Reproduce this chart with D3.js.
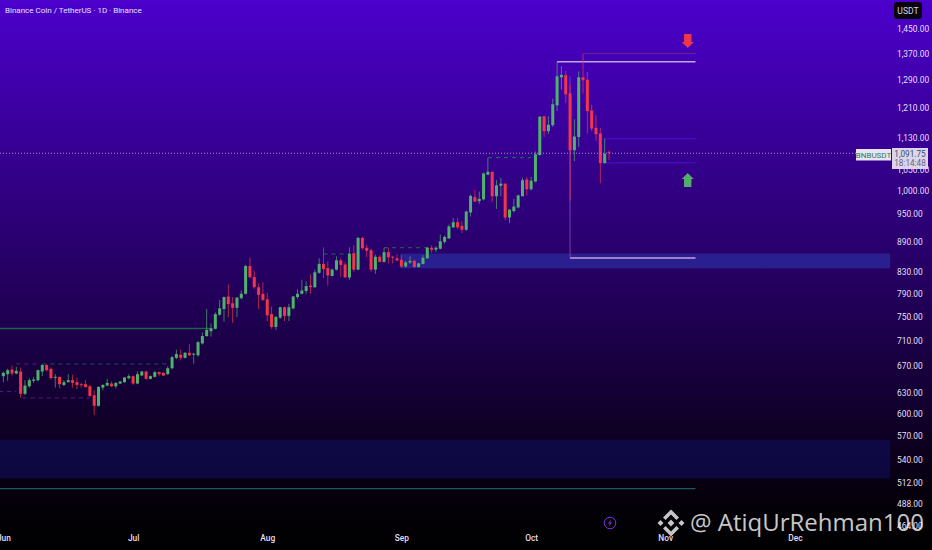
<!DOCTYPE html>
<html>
<head>
<meta charset="utf-8">
<script src="https://cdn.jsdelivr.net/npm/d3@7/dist/d3.min.js"></script>
<style>
  html, body { margin: 0; padding: 0; background: #000; }
  svg { display: block; font-family: Roboto, sans-serif; }
</style>
</head>
<body>
<svg id="chart" width="932" height="550"></svg>
<script>
// daily candles, first one is 1 Jun
var firstDay = Date.UTC(2025, 5, 1);
var opens = [654,657,664,658,661,628,639,647,648,661,671,665,652,653,641,645,648,645,642,642,639,626,611,637,640,643,639,643,645,651,
  654,643,655,661,650,653,660,659,657,666,682,687,682,690,687.5,686,705,717,725,729,753,763,785,773,765,782,790,842,821,802,
  790,780,754,732,748,766,751,764,784,790,795,805,802,829,846,838,823,835,853,845,820,867,835,898,878,873,835,860,850,869,
  860,857,854,841,849,852,840,846,857,878,874,876,890,897,920,931,923,915,952,986,977,981,1038,1045,988,1012,1017,941,955,963,
  988,1027,1004,1022,1086,1187,1147,1163,1217,1298,1304,1251,1098,1132,1298,1291,1203,1156,1141,1066,1094];
var highs = [661,665,670,668,667,648,651,653,664,672,672,667,657,653,648,657,656,652,644,648,641,633,639,642,650,646,645,647,652.5,657,
  655,661,662,662,655,662,661,660,669,685,695,695,691,704,690,709,723,763,738,757,779,785,807,784,784,796,844,858,833,809,
  811,792,767,751,767,767,772,786,798,816,813,826,835,857,879,851,837,861,857,850,879,883,900,900,884,876,864,863,878,878,
  862,865,864,852,861,854,848,863,880,883,881,905,903,926,940,940,933,956,992,1003,999,1043,1079,1046,1025,1031,1018,959,982,992,
  1031,1032,1033,1095,1187,1188,1187,1236,1345,1332,1317,1275,1179,1316,1370,1314,1219,1190,1156,1128,1097];
var lows = [645,647,655,657,622,626,637,644,646,654,661,649,637,636,639,645,637,635,637,637,624,598,610,633,639,638,636,642,644,649,
  641,642,654,649,649,652,654,654,656,664,680,678,681,685,673,684,703,716,716,728,751,741,749,739,749,780,789,819,799,763,
  777,742,729,727,746,742,742,762,781,789,790,790,800,827,819,805,822,833,821,819,816,831,834,874,859,831,827,849,849,847,
  847,851,838,839,846,839,839,845,856,868,869,875,886,896,919,917,908,913,943,976,971,979,1037,975,960,988,935,929,952,961,
  988,990,1001,1020,1085,1132,1140,1158,1201,1262,1224,978,1071,1106,1250,1141,1147,1122,1018,1065,1073];
var closes = [659,663,658,662,628,640,648,649,663,671,663,651,653,642,645,648,644,641,641,638,625,611,638,641,644,639,644,646,652,654,
  643,657,661,650,654,660,657,655,666,683,688,682,690,686,688.5,707,717,727,730,754,764,784,771.5,765,783,790,842,820.5,802,788,
  779,752,732,749,766,751,766,785,790,796,804,802,830,846,836,824,835,853,844,820.5,866,835,898,877,872,835,860,850,869,859,
  858,853,841,849,852,840,847,858,878,874,878,891,900,922,931,920,915,954,989,976,982,1041,1045,988,1013,1017,941,958,965,990,
  1025,1004,1024,1088,1186,1147,1164,1220,1301,1305,1248,1098,1133,1298,1289,1201,1154,1139,1066,1089,1091.75];

var priceTicks = [1450,1370,1290,1210,1130,1050,1000,950,890,830,790,750,710,670,630,600,570,540,512,488,464];
var monthTicks = [Date.UTC(2025,5,1), Date.UTC(2025,6,1), Date.UTC(2025,7,1), Date.UTC(2025,8,1), Date.UTC(2025,9,1), Date.UTC(2025,10,1), Date.UTC(2025,11,1)];
var lastPrice = 1091.75;

// drawn levels: [from day, to day, price]
var solidLevels = [
  [128, 160, 1345, '#b9abdc', 1.6],
  [134, 160, 1370.7, '#6e2484', 1],
  [139, 160, 1127.6, '#4a0fd8', 1],
  [139, 160, 1066.6, '#4a0fd8', 1],
  [131, 160, 857.6, '#c7a0dc', 1.4],
  [-1, 160, 505.2, '#1f6f72', 1],
  [-1, 47.7, 729.5, '#1f5f50', 1.5]
];
var dashedLevels = [
  [3, 8, 672.6, '#5a1c80'],
  [9, 38.5, 672.6, '#185850'],
  [4.5, 20, 622.2, '#5a1c80'],
  [-1, 3, 631.3, '#5a1c80'],
  [74, 80, 865.4, '#1d6a55'],
  [88, 98, 878, '#1d6a55'],
  [112, 122, 1079.5, '#1d7a55']
];
// zones: [from day, to day, top price, bottom price]
var zones = [
  [91.8, 205, 866.4, 837.5, '#2c2a9e', 0.75],
  [-1, 205, 565.3, 517.3, '#14127a', 0.42]
];

var width = 932, height = 550, axisX = 891;
var green = '#4fb26c', red = '#f23548';

var svg = d3.select('#chart');

var gradient = svg.append('defs').append('linearGradient')
  .attr('id', 'bg').attr('x1', 0).attr('y1', 0).attr('x2', 0).attr('y2', 1);
gradient.append('stop').attr('offset', '0%').attr('stop-color', '#4c00cc');
gradient.append('stop').attr('offset', '92%').attr('stop-color', '#040008');
gradient.append('stop').attr('offset', '100%').attr('stop-color', '#000000');

svg.append('rect').attr('width', width).attr('height', height).attr('fill', 'url(#bg)');

var dayMs = 86400000;
function dayToDate(i) { return new Date(firstDay + i * dayMs); }

var x = d3.scaleUtc()
  .domain([new Date(monthTicks[0]), new Date(monthTicks[6])])
  .range([3.36, 795.02]);
var y = d3.scaleLog().domain([464, 1450]).range([525.8, 29]);

// zones
svg.append('g').selectAll('rect').data(zones).enter().append('rect')
  .attr('x', function (d) { return x(dayToDate(d[0])); })
  .attr('width', function (d) { return x(dayToDate(d[1])) - x(dayToDate(d[0])); })
  .attr('y', function (d) { return y(d[2]); })
  .attr('height', function (d) { return y(d[3]) - y(d[2]); })
  .attr('fill', function (d) { return d[4]; })
  .attr('opacity', function (d) { return d[5]; });

// vertical purple leg of the box
svg.append('line')
  .attr('x1', x(dayToDate(131))).attr('x2', x(dayToDate(131)))
  .attr('y1', y(1300)).attr('y2', y(857.6))
  .attr('stroke', '#7a3cb4').attr('stroke-width', 1);

function levelLine(sel) {
  sel.attr('x1', function (d) { return x(dayToDate(d[0])); })
    .attr('x2', function (d) { return x(dayToDate(d[1])); })
    .attr('y1', function (d) { return y(d[2]); })
    .attr('y2', function (d) { return y(d[2]); })
    .attr('stroke', function (d) { return d[3]; });
}
svg.append('g').selectAll('line').data(solidLevels).enter().append('line')
  .call(levelLine)
  .attr('stroke-width', function (d) { return d[4]; });
svg.append('g').selectAll('line').data(dashedLevels).enter().append('line')
  .call(levelLine)
  .attr('stroke-width', 1)
  .attr('stroke-dasharray', '4 4');

// candles
var candles = d3.range(opens.length);
var wicks = svg.append('g').attr('opacity', 0.7);
wicks.selectAll('line').data(candles).enter().append('line')
  .attr('x1', function (i) { return x(dayToDate(i)); })
  .attr('x2', function (i) { return x(dayToDate(i)); })
  .attr('y1', function (i) { return y(highs[i]); })
  .attr('y2', function (i) { return y(lows[i]); })
  .attr('stroke', function (i) { return closes[i] >= opens[i] ? green : red; })
  .attr('stroke-width', 1);
var bodies = svg.append('g');
bodies.selectAll('rect').data(candles).enter().append('rect')
  .attr('x', function (i) { return x(dayToDate(i)) - 1.5; })
  .attr('width', 3)
  .attr('y', function (i) { return y(Math.max(opens[i], closes[i])); })
  .attr('height', function (i) { return Math.max(1, Math.abs(y(opens[i]) - y(closes[i]))); })
  .attr('fill', function (i) { return closes[i] >= opens[i] ? green : red; });

// last price line
svg.append('line')
  .attr('x1', 0).attr('x2', 857)
  .attr('y1', y(lastPrice) + 0.5).attr('y2', y(lastPrice) + 0.5)
  .attr('stroke', '#a890c8').attr('stroke-width', 1).attr('stroke-dasharray', '1 2');

// arrows
function arrow(day, price, up, color) {
  var s = up ? -1 : 1;
  svg.append('polygon')
    .attr('transform', 'translate(' + x(dayToDate(day)) + ',' + y(price) + ')')
    .attr('points', [[-3.7,-7*s],[3.7,-7*s],[3.7,1*s],[6,1*s],[0,7*s],[-6,1*s],[-3.7,1*s]].join(' '))
    .attr('fill', color);
}
arrow(158.2, 1410.6, false, '#f0364a');
arrow(158.2, 1025.5, true, '#54ad6c');

// axes
var yAxis = d3.axisRight(y).tickValues(priceTicks).tickFormat(d3.format(',.2f')).tickSize(0).tickPadding(6);
var xAxis = d3.axisBottom(x).tickValues(monthTicks.map(function (d) { return new Date(d); }))
  .tickFormat(d3.utcFormat('%b')).tickSize(0).tickPadding(0);

var gy = svg.append('g').attr('transform', 'translate(' + axisX + ',0)').call(yAxis);
var gx = svg.append('g').attr('transform', 'translate(0,535.5)').call(xAxis);
gy.select('.domain').remove();
gx.select('.domain').remove();
gy.selectAll('text').attr('fill', '#e6dff2').attr('font-size', 8.4).attr('font-family', 'Roboto, sans-serif');
gx.selectAll('text').attr('fill', '#e6dff2').attr('font-size', 8.4).attr('font-weight', 500).attr('font-family', 'Roboto, sans-serif');

// title
svg.append('text').attr('x', 5).attr('y', 13)
  .attr('fill', '#e8e2f6').attr('font-size', 8)
  .text('Binance Coin / TetherUS · 1D · Binance');

// currency button
svg.append('rect').attr('x', 894).attr('y', 2).attr('width', 28).attr('height', 17).attr('rx', 3).attr('fill', '#08040f');
svg.append('text').attr('x', 908).attr('y', 14).attr('text-anchor', 'middle')
  .attr('fill', '#cfd6dc').attr('font-size', 8.6).text('USDT');

// price tags
svg.append('rect').attr('x', 856).attr('y', 149).attr('width', 35).attr('height', 11.5).attr('fill', '#e9e4f2');
svg.append('text').attr('x', 873.5).attr('y', 157.8).attr('text-anchor', 'middle')
  .attr('fill', '#2c7a58').attr('font-size', 8).text('BNBUSDT');
svg.append('rect').attr('x', 892).attr('y', 148).attr('width', 36).attr('height', 21).attr('fill', '#dcd5ea');
svg.append('text').attr('x', 910).attr('y', 156.8).attr('text-anchor', 'middle')
  .attr('fill', '#34506a').attr('font-size', 8.2).text(d3.format(',.2f')(lastPrice));
svg.append('text').attr('x', 910).attr('y', 165.8).attr('text-anchor', 'middle')
  .attr('fill', '#6a6280').attr('font-size', 8.2).text('18:14:48');

// lightning badge
var badge = svg.append('g').attr('transform', 'translate(610,523)');
badge.append('circle').attr('r', 5.8).attr('fill', 'none').attr('stroke', '#7a30e0').attr('stroke-width', 1);
badge.append('polygon').attr('points', '1,-3.4 -2,0.6 -0.2,0.6 -1,3.4 2,-0.6 0.2,-0.6').attr('fill', '#7a30e0');

// watermark
var mark = svg.append('g').attr('transform', 'translate(671,523)').attr('fill', 'rgba(255,255,255,0.78)');
mark.append('polygon').attr('points', '0,-3.4 3.4,0 0,3.4 -3.4,0');
mark.append('polygon').attr('points', '-13.5,0 -10.5,-3 -7.5,0 -10.5,3');
mark.append('polygon').attr('points', '13.5,0 10.5,-3 7.5,0 10.5,3');
mark.append('polygon').attr('points', '0,-13.5 8,-5.5 5.4,-3 0,-8.4 -5.4,-3 -8,-5.5');
mark.append('polygon').attr('points', '0,13.5 8,5.5 5.4,3 0,8.4 -5.4,3 -8,5.5');
svg.append('text').attr('x', 690).attr('y', 531)
  .attr('fill', 'rgba(255,255,255,0.78)').attr('font-size', 24).attr('font-family', '"Open Sans", sans-serif')
  .text('@ AtiqUrRehman100');
</script>
</body>
</html>
